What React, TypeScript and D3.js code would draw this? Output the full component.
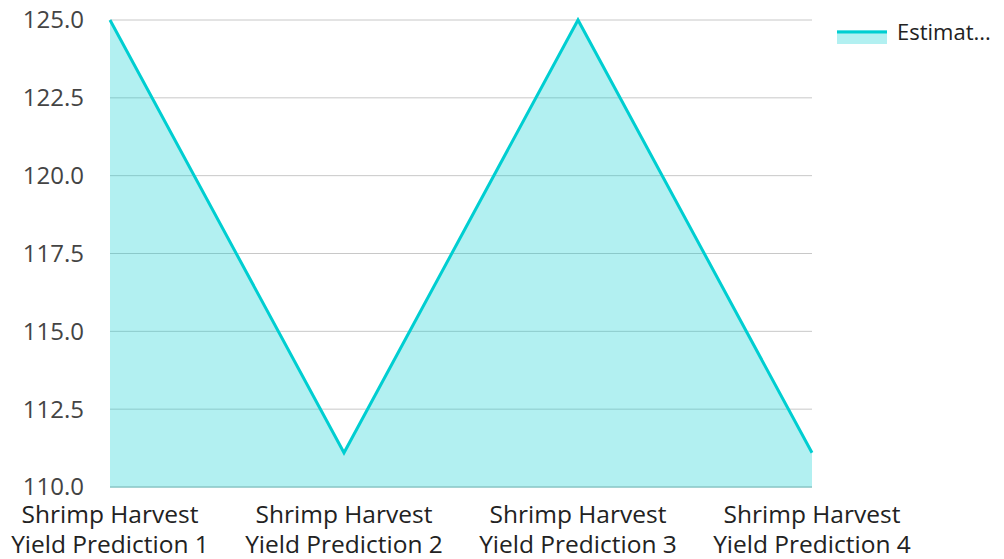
import { useEffect, useRef } from 'react';
import * as d3 from 'd3';

const categories = [
  'Shrimp Harvest Yield Prediction 1',
  'Shrimp Harvest Yield Prediction 2',
  'Shrimp Harvest Yield Prediction 3',
  'Shrimp Harvest Yield Prediction 4',
];
const estimates = [125, 111.1, 125, 111.1];
const yTicks = [110, 112.5, 115, 117.5, 120, 122.5, 125];
const seriesName = 'Estimat...';

const LINE = '#00CED1';
const FONT = '"Open Sans", sans-serif';

const App = () => {
  const svgRef = useRef<SVGSVGElement>(null);

  useEffect(() => {
    const width = 1004;
    const height = 559;
    const m = { left: 110, right: 192, top: 20, bottom: 72 };

    const svg = d3.select(svgRef.current);
    svg.selectAll('*').remove();

    const x = d3.scalePoint<string>()
      .domain(categories)
      .range([m.left, width - m.right])
      .padding(0);

    const y = d3.scaleLinear()
      .domain([110, 125])
      .range([height - m.bottom, m.top]);

    // gridlines
    svg.append('g')
      .selectAll('line')
      .data(yTicks)
      .enter()
      .append('line')
      .attr('x1', m.left)
      .attr('x2', width - m.right)
      .attr('y1', d => y(d))
      .attr('y2', d => y(d))
      .attr('stroke', '#c8c8c8')
      .attr('stroke-width', 1);

    // y labels
    svg.append('g')
      .selectAll('text')
      .data(yTicks)
      .enter()
      .append('text')
      .attr('x', 84)
      .attr('y', d => y(d))
      .attr('dy', '0.35em')
      .attr('text-anchor', 'end')
      .attr('font-family', FONT)
      .attr('font-size', 24)
      .attr('fill', '#444')
      .text(d => d.toFixed(1));

    const pts = estimates.map((v, i) => [x(categories[i]) as number, y(v)] as [number, number]);

    const area = d3.area<[number, number]>()
      .x(d => d[0])
      .y0(y(110))
      .y1(d => d[1]);

    svg.append('path')
      .attr('d', area(pts))
      .attr('fill', LINE)
      .attr('fill-opacity', 0.3);

    // baseline
    svg.append('line')
      .attr('x1', m.left)
      .attr('x2', width - m.right)
      .attr('y1', y(110))
      .attr('y2', y(110))
      .attr('stroke', '#8fcccc')
      .attr('stroke-width', 1.5);

    svg.append('path')
      .attr('d', d3.line()(pts))
      .attr('fill', 'none')
      .attr('stroke', LINE)
      .attr('stroke-width', 3);

    // x labels, two lines each
    const xl = svg.append('g')
      .selectAll('text')
      .data(categories)
      .enter()
      .append('text')
      .attr('x', d => x(d) as number)
      .attr('y', 523)
      .attr('text-anchor', 'middle')
      .attr('font-family', FONT)
      .attr('font-size', 24.5)
      .attr('fill', '#222');
    xl.append('tspan')
      .attr('x', d => x(d) as number)
      .text(d => d.split(' ').slice(0, 2).join(' '));
    xl.append('tspan')
      .attr('x', d => x(d) as number)
      .attr('dy', 30)
      .text(d => d.split(' ').slice(2).join(' '));

    // legend
    const lg = svg.append('g').attr('transform', 'translate(837,30)');
    lg.append('rect')
      .attr('width', 50)
      .attr('height', 14)
      .attr('fill', LINE)
      .attr('fill-opacity', 0.3);
    lg.append('line')
      .attr('x1', 0)
      .attr('x2', 50)
      .attr('y1', 2)
      .attr('y2', 2)
      .attr('stroke', LINE)
      .attr('stroke-width', 3);
    lg.append('text')
      .attr('x', 60)
      .attr('y', 2)
      .attr('dy', '0.35em')
      .attr('font-family', FONT)
      .attr('font-size', 22)
      .attr('fill', '#222')
      .text(seriesName);
  }, []);

  return (
    <svg
      ref={svgRef}
      width={1004}
      height={559}
      style={{ position: 'absolute', left: 0, top: 0 }}
    />
  );
};

export default App;
